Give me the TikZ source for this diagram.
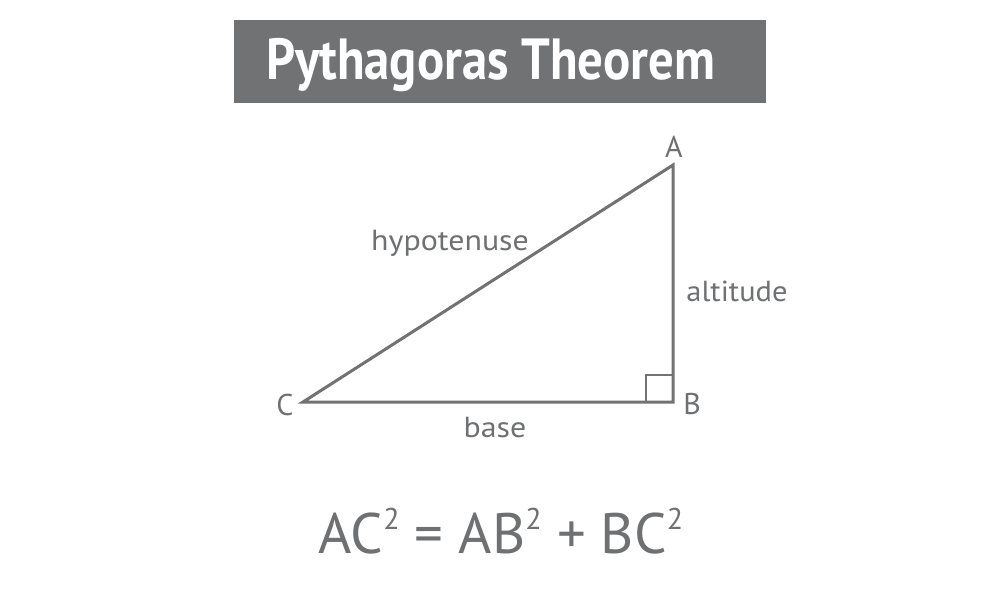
\documentclass[tikz,border=0pt]{standalone}
\usepackage{graphicx}
\usepackage{fontspec}
\setmainfont{PT Sans}
\usetikzlibrary{positioning, calc}
\definecolor{slate}{HTML}{707274}
\definecolor{inkgray}{HTML}{6E7072}
\newcommand{\pwr}{\raisebox{24pt}{\fontsize{30}{30}\selectfont 2}}

\begin{document}
\begin{tikzpicture}[x=1pt, y=-1pt,
		side/.style={draw=slate, line width=3pt, line join=miter},
		vertex/.style={text=inkgray, font=\fontsize{30}{30}\selectfont, inner sep=0pt},
		word/.style={text=inkgray, font=\fontsize{29}{29}\selectfont, inner sep=0pt, anchor=base},
		banner/.style={fill=slate, draw=none}]
	% --- Frame ---
	\useasboundingbox (0,0) rectangle (1000,594);
	\fill[white] (0,0) rectangle (1000,594);
	
	% --- Title ---
	\fill[banner] (234,20) rectangle (766,103);
	\node[text=white, inner sep=0pt, anchor=base] (title) at (491,79)
		{\scalebox{0.875}[1]{\fontsize{58}{58}\selectfont\bfseries Pythagoras Theorem}};
	
	% --- Triangle corners ---
	\coordinate (C) at (303,402);
	\coordinate (B) at (673,402);
	\coordinate (A) at (673,165);
	
	% --- Sides ---
	\draw[side] (C) -- (B) -- (A) -- cycle;
	% right angle mark
	\draw[slate, line width=2.5pt] ($(B)+(-27,0)$) -- ++(0,-27) -- ++(27,0);
	
	% --- Corner labels ---
	\node[vertex] (labA) at (674,147) {A};
	\node[vertex] (labB) at (692,404) {B};
	\node[vertex] (labC) at (285,405) {C};
	
	% --- Side labels ---
	\node[word] (hyp) at (450,250) {\scalebox{1.1}[1]{hypotenuse}};
	\node[word] (alt) at (737,301) {\scalebox{1.05}[1]{altitude}};
	\node[word] (bas) at (495,437) {\scalebox{1.1}[1]{base}};
	
	% --- Formula ---
	\node[text=inkgray, inner sep=0pt, anchor=base] (law) at (501,553)
		{\fontsize{57}{57}\selectfont AC\pwr{} = AB\pwr{} + BC\pwr};
\end{tikzpicture}
\end{document}
